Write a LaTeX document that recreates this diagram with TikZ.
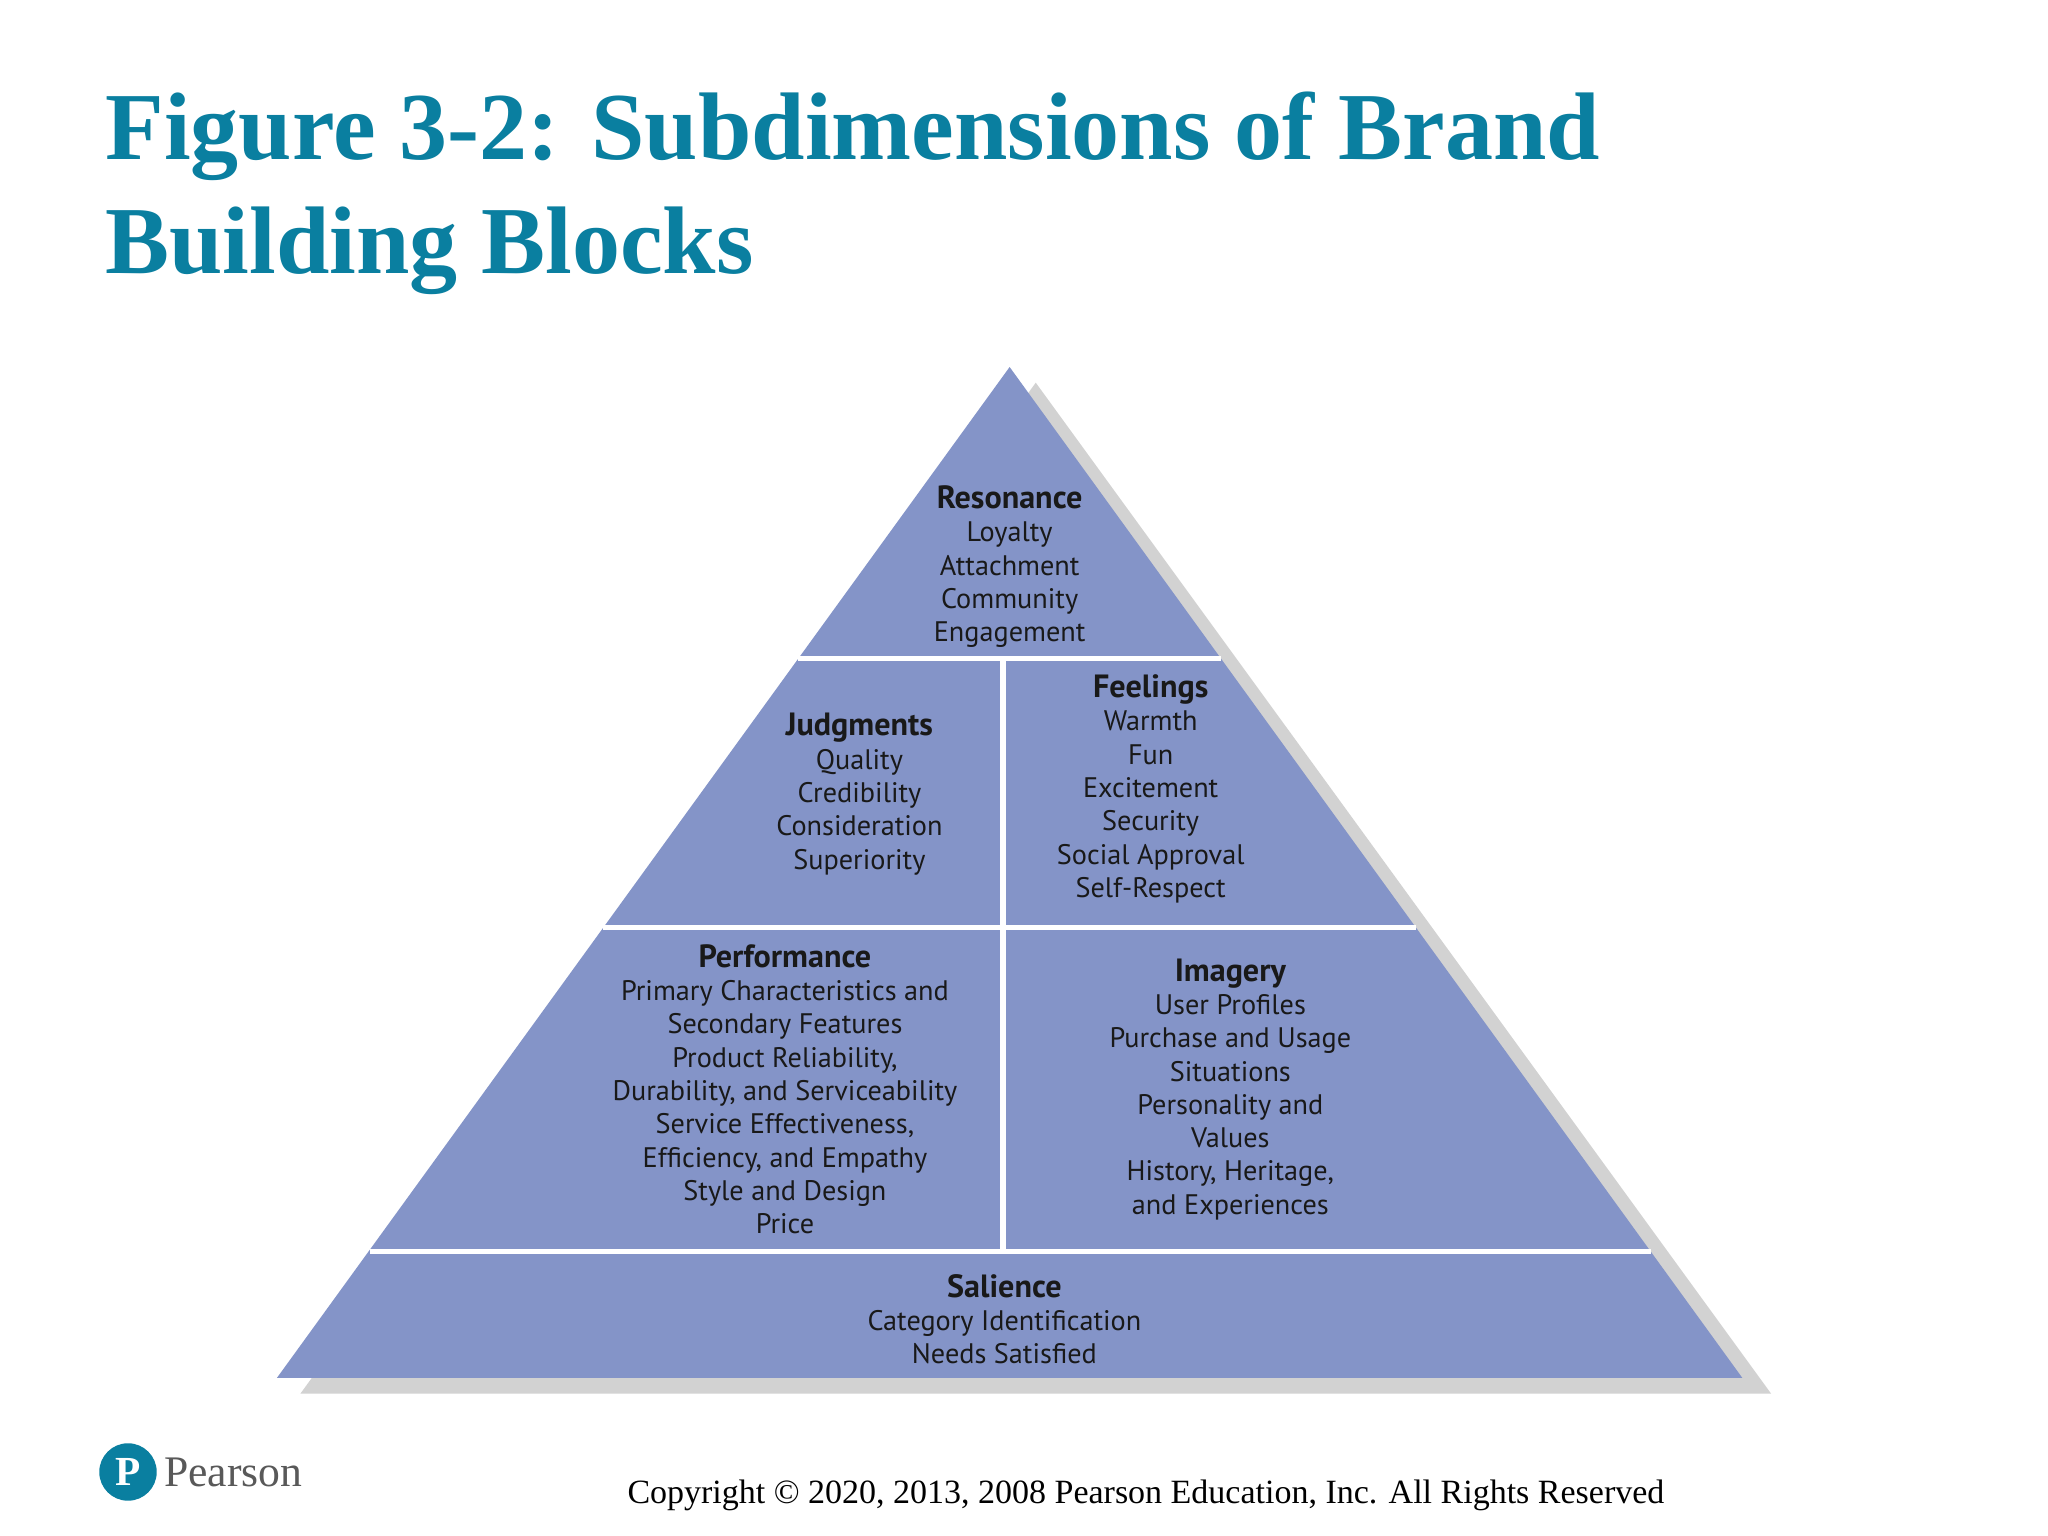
\documentclass[tikz,border=0pt]{standalone}
\usepackage{fontspec}
\setmainfont{Liberation Serif}
\newfontfamily\bodyf{PT Sans}
\definecolor{teal1}{HTML}{0A7FA0}
\definecolor{pyr}{HTML}{8494C8}
\definecolor{shad}{HTML}{D2D2D2}
\newcommand\hd[1]{{\fontsize{7}{7.25}\selectfont\bfseries #1}}
\tikzset{blk/.style={align=center,font=\bodyf\fontsize{6.15}{7.25}\selectfont,text=black!90,inner sep=0pt}}
\begin{document}
\begin{tikzpicture}[x=0.01cm,y=-0.01cm]
\useasboundingbox (0,0) rectangle (1568,1176);
\fill[white] (0,0) rectangle (1568,1176);
\node[anchor=west,align=left,text=teal1,font=\bfseries\fontsize{20.9}{25}\selectfont,inner sep=0pt] (title) at (80,148) {Figure 3-2: Subdimensions of Brand\\Building Blocks};
% shadow
\fill[shad] (793,293) -- (1356,1067) -- (230,1067) -- cycle;
\fill[pyr] (773,281) coordinate (A) -- (1334,1055) coordinate (R) -- (212,1055) coordinate (L) -- cycle;
\draw[white,line width=1.2pt] (611,504) -- (935,504);
\draw[white,line width=1.2pt] (462,710) -- (1084,710);
\draw[white,line width=1.2pt] (283,958) -- (1264,958);
\draw[white,line width=1.2pt] (768,504) -- (768,958);
\node[blk] (res) at (773,434) {\hd{Resonance}\\Loyalty\\Attachment\\Community\\Engagement};
\node[blk] (jud) at (658,608) {\hd{Judgments}\\Quality\\Credibility\\Consideration\\Superiority};
\node[blk] (fee) at (881,604) {\hd{Feelings}\\Warmth\\Fun\\Excitement\\Security\\Social Approval\\Self-Respect};
\node[blk] (per) at (601,834) {\hd{Performance}\\Primary Characteristics and\\Secondary Features\\Product Reliability,\\Durability, and Serviceability\\Service Effectiveness,\\Efficiency, and Empathy\\Style and Design\\Price};
\node[blk] (ima) at (942,834) {\hd{Imagery}\\User Profiles\\Purchase and Usage\\Situations\\Personality and\\Values\\History, Heritage,\\and Experiences};
\node[blk] (sal) at (769,1010) {\hd{Salience}\\Category Identification\\Needs Satisfied};
% logo
\fill[teal1] (98,1127) circle (22);
\node[text=white,font=\bfseries\fontsize{9}{10}\selectfont,inner sep=0pt] (plogo) at (98,1127) {P};
\node[anchor=west,text=black!65,font=\fontsize{9.5}{10}\selectfont,inner sep=0pt] (pear) at (125,1127) {Pearson};
\node[anchor=east,font=\fontsize{7.4}{9}\selectfont,inner sep=0pt] (copy) at (1275,1145) {Copyright © 2020, 2013, 2008 Pearson Education, Inc. All Rights Reserved};
\end{tikzpicture}
\end{document}
